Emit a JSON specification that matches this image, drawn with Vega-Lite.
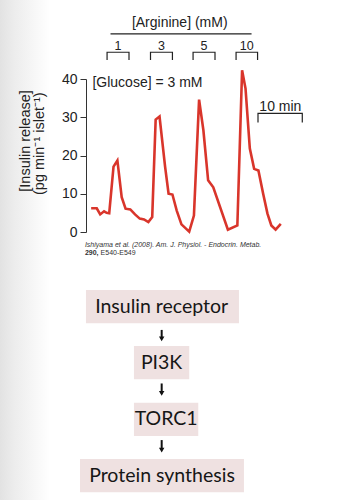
{
  "$schema": "https://vega.github.io/schema/vega-lite/v6.json",
  "width": 215,
  "height": 153,
  "autosize": {"type": "none"},
  "padding": {"left": 86, "top": 79, "right": 41, "bottom": 268},
  "background": "#ffffff",
  "config": {
    "view": {"stroke": null},
    "font": "Liberation Sans",
    "axisY": {
      "values": [0, 10, 20, 30, 40], "grid": false, "domainColor": "#333333", "tickColor": "#333333",
      "tickSize": 6, "labelFontSize": 14, "labelColor": "#222222", "labelPadding": 3, "labelFont": "Liberation Sans"
    }
  },
  "datasets": {
    "insulin": [
      {"minutes": 0, "release": 6.2}, {"minutes": 1.3, "release": 6.2}, {"minutes": 2.1, "release": 4.6},
      {"minutes": 3.0, "release": 5.4}, {"minutes": 3.6, "release": 5.0}, {"minutes": 4.2, "release": 4.9},
      {"minutes": 5.2, "release": 17.1}, {"minutes": 6.1, "release": 18.7}, {"minutes": 7.1, "release": 9.1},
      {"minutes": 8.0, "release": 6.1}, {"minutes": 9.1, "release": 5.9}, {"minutes": 10.2, "release": 4.6},
      {"minutes": 11.3, "release": 3.5}, {"minutes": 12.3, "release": 3.3}, {"minutes": 13.3, "release": 2.6},
      {"minutes": 14.2, "release": 3.9}, {"minutes": 15.0, "release": 29.4}, {"minutes": 15.9, "release": 30.2},
      {"minutes": 17.2, "release": 17.0}, {"minutes": 18.0, "release": 10.0}, {"minutes": 18.9, "release": 9.8},
      {"minutes": 19.9, "release": 5.6}, {"minutes": 21.0, "release": 2.0}, {"minutes": 22.8, "release": 0.1},
      {"minutes": 23.9, "release": 4.3}, {"minutes": 25.1, "release": 34.6}, {"minutes": 26.1, "release": 26.6},
      {"minutes": 27.2, "release": 13.5}, {"minutes": 28.4, "release": 11.7}, {"minutes": 31.8, "release": 0.6},
      {"minutes": 34.0, "release": 1.7}, {"minutes": 35.1, "release": 42.3}, {"minutes": 35.9, "release": 37.5},
      {"minutes": 36.9, "release": 21.8}, {"minutes": 37.9, "release": 16.5}, {"minutes": 38.9, "release": 16.1},
      {"minutes": 40.0, "release": 10.0}, {"minutes": 41.0, "release": 4.8}, {"minutes": 41.9, "release": 1.7},
      {"minutes": 42.9, "release": 0.6}, {"minutes": 44.1, "release": 2.1}
    ],
    "brackets": [
      {"g": "arg", "o": 0, "x": 4.5, "y": 51.8}, {"g": "arg", "o": 1, "x": 37.3, "y": 51.8},
      {"g": "b1", "o": 0, "x": 3.7, "y": 45.0}, {"g": "b1", "o": 1, "x": 3.7, "y": 47.0}, {"g": "b1", "o": 2, "x": 8.8, "y": 47.0}, {"g": "b1", "o": 3, "x": 8.8, "y": 45.0},
      {"g": "b3", "o": 0, "x": 13.8, "y": 45.0}, {"g": "b3", "o": 1, "x": 13.8, "y": 47.0}, {"g": "b3", "o": 2, "x": 18.9, "y": 47.0}, {"g": "b3", "o": 3, "x": 18.9, "y": 45.0},
      {"g": "b5", "o": 0, "x": 23.7, "y": 45.0}, {"g": "b5", "o": 1, "x": 23.7, "y": 47.0}, {"g": "b5", "o": 2, "x": 28.8, "y": 47.0}, {"g": "b5", "o": 3, "x": 28.8, "y": 45.0},
      {"g": "b10", "o": 0, "x": 33.7, "y": 45.0}, {"g": "b10", "o": 1, "x": 33.7, "y": 47.0}, {"g": "b10", "o": 2, "x": 38.7, "y": 47.0}, {"g": "b10", "o": 3, "x": 38.7, "y": 45.0},
      {"g": "scale", "o": 0, "x": 38.8, "y": 28.6}, {"g": "scale", "o": 1, "x": 38.8, "y": 31.0}, {"g": "scale", "o": 2, "x": 49.1, "y": 31.0}, {"g": "scale", "o": 3, "x": 49.1, "y": 28.6}
    ],
    "labels14": [
      {"text": "[Arginine] (mM)", "x": 20.6, "y": 53.6},
      {"text": "[Glucose] = 3 mM", "x": 13.1, "y": 37.8},
      {"text": "10 min", "x": 44.0, "y": 31.6}
    ],
    "doses": [
      {"text": "1", "x": 6.25, "y": 47.6},
      {"text": "3", "x": 16.35, "y": 47.6},
      {"text": "5", "x": 26.25, "y": 47.6},
      {"text": "10", "x": 36.2, "y": 47.6}
    ],
    "ytitle": [
      {"text": "[Insulin release]", "x": -15.1, "y": 23.8},
      {"text": "(pg min⁻¹ islet⁻¹)", "x": -11.95, "y": 23.1}
    ],
    "boxes": [
      {"step": "Insulin receptor", "x": -1.21, "x2": 34.37, "y": -15.16, "y2": -23.87, "cx": 16.4, "cy": -19.5},
      {"step": "PI3K", "x": 9.95, "x2": 22.81, "y": -29.8, "y2": -38.51, "cx": 16.38, "cy": -34.2},
      {"step": "TORC1", "x": 9.95, "x2": 24.91, "y": -44.63, "y2": -53.33, "cx": 17.43, "cy": -49.0},
      {"step": "Protein synthesis", "x": -2.6, "x2": 35.53, "y": -59.35, "y2": -68.05, "cx": 16.47, "cy": -63.7}
    ],
    "arrows": [
      {"x": 16.4, "y": -25.6, "y2": -28.7},
      {"x": 16.4, "y": -39.6, "y2": -43.0},
      {"x": 16.4, "y": -54.4, "y2": -57.8}
    ],
    "shade": [{"x": -25, "x2": -9.6, "y": 70, "y2": -80}]
  },
  "layer": [
    {
      "data": {"name": "insulin"},
      "mark": {"type": "line", "color": "#d9352b", "strokeWidth": 2.6, "strokeJoin": "miter"},
      "encoding": {
        "x": {"field": "minutes", "type": "quantitative", "axis": null, "scale": {"domain": [-1.2, 48.8], "nice": false, "zero": false}},
        "y": {"field": "release", "type": "quantitative", "scale": {"domain": [0, 40], "nice": false, "zero": false}, "title": null}
      }
    },
    {
      "data": {"name": "shade"},
      "mark": {"type": "rect", "color": {"gradient": "linear", "x1": 0, "y1": 0, "x2": 1, "y2": 0,
        "stops": [{"offset": 0, "color": "#d6d6d6"}, {"offset": 0.45, "color": "#ececec"}, {"offset": 1, "color": "#ffffff"}]}},
      "encoding": {
        "x": {"field": "x", "type": "quantitative", "axis": null},
        "x2": {"field": "x2"},
        "y": {"field": "y", "type": "quantitative", "title": null},
        "y2": {"field": "y2"}
      }
    },
    {
      "data": {"name": "ytitle"},
      "mark": {"type": "text", "fontSize": 14.5, "angle": 270, "color": "#222222", "align": "center", "baseline": "middle"},
      "encoding": {
        "x": {"field": "x", "type": "quantitative", "axis": null},
        "y": {"field": "y", "type": "quantitative", "title": null},
        "text": {"field": "text"}
      }
    },
    {
      "data": {"name": "boxes"},
      "mark": {"type": "rect", "color": "#efe1e1"},
      "encoding": {
        "x": {"field": "x", "type": "quantitative", "axis": null},
        "x2": {"field": "x2"},
        "y": {"field": "y", "type": "quantitative", "title": null},
        "y2": {"field": "y2"}
      }
    },
    {
      "data": {"name": "boxes"},
      "mark": {"type": "text", "font": "Lato", "fontSize": 19.5, "color": "#161616", "align": "center", "baseline": "middle"},
      "encoding": {
        "x": {"field": "cx", "type": "quantitative", "axis": null},
        "y": {"field": "cy", "type": "quantitative", "title": null},
        "text": {"field": "step"}
      }
    },
    {
      "data": {"name": "arrows"},
      "mark": {"type": "rule", "color": "#111111", "strokeWidth": 2, "y2Offset": -3},
      "encoding": {
        "x": {"field": "x", "type": "quantitative", "axis": null},
        "y": {"field": "y", "type": "quantitative", "title": null},
        "y2": {"field": "y2"}
      }
    },
    {
      "data": {"name": "arrows"},
      "mark": {"type": "point", "shape": "triangle-down", "filled": true, "color": "#111111", "size": 30, "opacity": 1, "yOffset": -3},
      "encoding": {
        "x": {"field": "x", "type": "quantitative", "axis": null},
        "y": {"field": "y2", "type": "quantitative", "title": null}
      }
    },
    {
      "data": {"name": "brackets"},
      "mark": {"type": "line", "color": "#222222", "strokeWidth": 1.2},
      "encoding": {
        "x": {"field": "x", "type": "quantitative", "axis": null},
        "y": {"field": "y", "type": "quantitative", "title": null},
        "detail": {"field": "g"},
        "order": {"field": "o"}
      }
    },
    {
      "data": {"name": "labels14"},
      "mark": {"type": "text", "fontSize": 14, "color": "#222222", "align": "center", "baseline": "alphabetic"},
      "encoding": {
        "x": {"field": "x", "type": "quantitative", "axis": null},
        "y": {"field": "y", "type": "quantitative", "title": null},
        "text": {"field": "text"}
      }
    },
    {
      "data": {"name": "doses"},
      "mark": {"type": "text", "fontSize": 12.5, "color": "#222222", "align": "center", "baseline": "alphabetic"},
      "encoding": {
        "x": {"field": "x", "type": "quantitative", "axis": null},
        "y": {"field": "y", "type": "quantitative", "title": null},
        "text": {"field": "text"}
      }
    },
    {
      "data": {"values": [{"text": "Ishiyama et al. (2008). Am. J. Physiol. - Endocrin.  Metab.", "x": -1.45, "y": -3.9}]},
      "mark": {"type": "text", "fontSize": 7, "fontStyle": "italic", "color": "#333333", "align": "left", "baseline": "alphabetic"},
      "encoding": {
        "x": {"field": "x", "type": "quantitative", "axis": null},
        "y": {"field": "y", "type": "quantitative", "title": null},
        "text": {"field": "text"}
      }
    },
    {
      "data": {"values": [{"text": "290,", "x": -1.45, "y": -6.1}]},
      "mark": {"type": "text", "fontSize": 7, "fontWeight": "bold", "color": "#333333", "align": "left", "baseline": "alphabetic"},
      "encoding": {
        "x": {"field": "x", "type": "quantitative", "axis": null},
        "y": {"field": "y", "type": "quantitative", "title": null},
        "text": {"field": "text"}
      }
    },
    {
      "data": {"values": [{"text": "E540-E549", "x": 2.2, "y": -6.1}]},
      "mark": {"type": "text", "fontSize": 7, "color": "#333333", "align": "left", "baseline": "alphabetic"},
      "encoding": {
        "x": {"field": "x", "type": "quantitative", "axis": null},
        "y": {"field": "y", "type": "quantitative", "title": null},
        "text": {"field": "text"}
      }
    }
  ]
}
